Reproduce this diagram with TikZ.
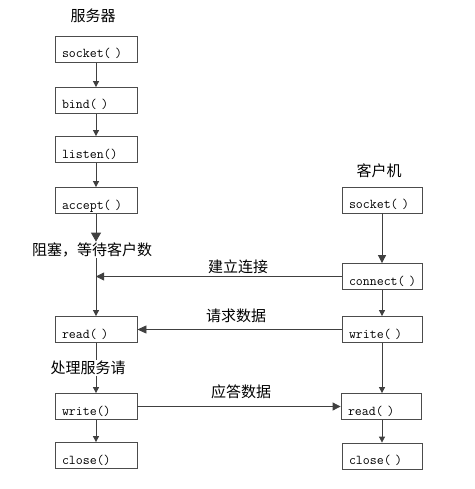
\documentclass[tikz,border=0pt]{standalone}
\usepackage{fontspec}
\newfontfamily\cjk{Noto Sans CJK SC}
\usetikzlibrary{arrows.meta}
\begin{document}
\begin{tikzpicture}[x=1pt,y=-1pt,
  box/.style={draw=black!70, line width=0.8pt, minimum height=26pt, text width=68pt, align=left,
    inner xsep=7pt, text height=17pt, text depth=0pt, font=\ttfamily\fontsize{13.5}{13.5}\selectfont},
  cbox/.style={box, text width=66pt},
  lab/.style={font=\cjk\fontsize{15}{15}\selectfont, inner sep=1pt},
  flow/.style={draw=black!75, line width=0.8pt, -{Triangle[length=6pt,width=6pt]}},
  bigflow/.style={flow, -{Triangle[length=9pt,width=10pt]}},
  plain/.style={draw=black!75, line width=0.8pt}]
\useasboundingbox (0,0) rectangle (474,489);
% server
\node[lab] (stitle) at (93,16) {服务器};
\node[box] (ssock) at (96,49.5) {socket(~)};
\node[box] (sbind) at (96,100.5) {bind(~)};
\node[box] (slisten) at (96,149.5) {listen()};
\node[box] (saccept) at (96,200.5) {accept(~)};
\node[lab] (block) at (92,250) {阻塞，等待客户数};
\node[box] (sread) at (96,329.5) {read(~)};
\node[lab] (proc) at (88,368) {处理服务请};
\node[box] (swrite) at (96,406.5) {write()};
\node[box] (sclose) at (96,455.5) {close()};
% client
\node[lab] (ctitle) at (379,171) {客户机};
\node[cbox] (csock) at (382,200) {socket(~)};
\node[cbox] (cconn) at (382,276.5) {connect(~)};
\node[cbox] (cwrite) at (382,329.5) {write(~)};
\node[cbox] (cread) at (381,406.5) {read(~)};
\node[cbox] (cclose) at (382,456) {close(~)};
% message labels
\node[lab] (lconn) at (238,267) {建立连接};
\node[lab] (lreq) at (236,316) {请求数据};
\node[lab] (lresp) at (241,392) {应答数据};
% server flow
\draw[flow] (ssock) -- (sbind);
\draw[flow] (sbind) -- (slisten);
\draw[flow] (slisten) -- (saccept);
\draw[bigflow] (saccept.south) -- (saccept.south |- block.north);
\draw[flow] (sread.north |- block.south) -- (sread.north);
\draw[plain] (sread.south) -- (sread.south |- proc.north);
\draw[flow] (swrite.north |- proc.south) -- (swrite.north);
\draw[flow] (swrite) -- (sclose);
% client flow
\draw[flow, -{Triangle[length=8pt,width=8pt]}] (csock) -- (cconn);
\draw[flow] (cconn) -- (cwrite);
\draw[flow] (cwrite) -- (cwrite.south |- cread.north);
\draw[flow] (cread.south -| cclose.north) -- (cclose.north);
% messages
\draw[flow, -{Triangle[length=8pt,width=8pt]}] (cconn.west) -- (cconn.west -| sread.north);
\draw[flow, -{Triangle[length=9pt,width=8pt]}] (cwrite.west) -- (sread.east);
\draw[flow, -{Triangle[length=8pt,width=8pt]}] (swrite.east) -- (cread.west);
\end{tikzpicture}
\end{document}
